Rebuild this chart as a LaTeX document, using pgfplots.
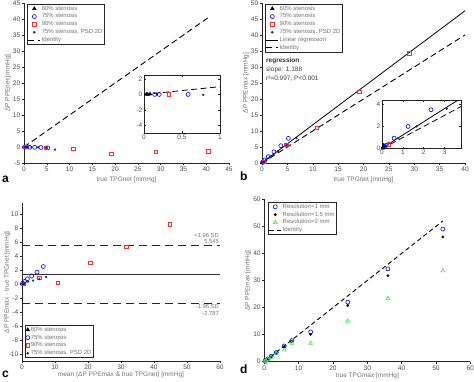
\documentclass[border=0pt]{standalone}
\usepackage{pgfplots}
\pgfplotsset{compat=1.18}
\usepackage{fontspec}
\setmainfont{Liberation Sans}
\definecolor{mblue}{rgb}{0.05,0.05,0.95}
\definecolor{mred}{rgb}{0.93,0.2,0.2}
\definecolor{mnavy}{rgb}{0.12,0.12,0.55}
\definecolor{mgreen}{rgb}{0.3,0.88,0.3}
\definecolor{labgray}{gray}{0.45}
\definecolor{tickgray}{gray}{0.3}
\pgfplotsset{
  base/.style={scale only axis, anchor=south west,
    axis lines*=left, tick align=outside,
    major tick length=2pt,
    axis line style={line width=0.5pt, black!85},
    tick style={line width=0.5pt, black!85},
    /pgf/number format/assume math mode=true,
    ticklabel style={font=\fontsize{6.6}{7.5}\selectfont, text=tickgray, inner sep=1.5pt},
    label style={font=\fontsize{6.5}{7.5}\selectfont, text=labgray},
    legend style={font=\fontsize{6}{7}\selectfont, text=labgray, draw=black!85, line width=0.6pt, inner sep=0.5pt, row sep=0pt, legend cell align=left, nodes={inner sep=1pt}},
    legend image code/.code={\draw[mark repeat=2,mark phase=2,##1] plot coordinates {(0pt,0pt) (6pt,0pt) (12pt,0pt)};},
  },
  inset/.style={scale only axis, anchor=south west, axis background/.style={fill=white},
    tick align=inside, major tick length=2pt,
    axis line style={line width=0.5pt, black!85},
    tick style={line width=0.5pt, black!85},
    ticklabel style={font=\fontsize{6.5}{7}\selectfont, text=tickgray, inner sep=1.5pt},
    /pgf/number format/assume math mode=true},
  s60/.style={only marks, mark=triangle*, mark size=2pt, black},
  s75/.style={only marks, mark=o, mark size=2pt, mblue, line width=0.65pt},
  s90/.style={only marks, mark=square, mark size=1.7pt, mred, line width=0.65pt},
  spsd/.style={only marks, mark=*, mark size=0.95pt, mnavy},
  sid/.style={black, line width=0.9pt, dash pattern=on 6pt off 3.5pt},
}
\begin{document}
\begin{tikzpicture}
\path[use as bounding box] (0pt,0pt) rectangle (474pt,381pt);
% ---------------- panel a
\begin{axis}[base, at={(24pt,218pt)}, width=205pt, height=160pt,
  xmin=0, xmax=45, ymin=-5, ymax=45,
  xtick={0,5,...,45}, ytick={-5,0,...,45},
  xlabel={true TPGnet [mmHg]}, ylabel={ΔP PPEnet [mmHg]},
  ylabel style={at={(axis description cs:-0.078,0.5)}, anchor=center},
  legend style={at={(0.015,0.994)}, anchor=north west}]
\addplot[s60] coordinates {(0.03,0.02) (0.05,0) (0.08,0.05)};
\addplot[s75] coordinates {(0.14,0) (0.2,0) (0.58,0) (1.25,-0.1) (2.35,-0.1) (3.7,-0.15) (5.2,-0.25)};
\addplot[s90] coordinates {(0.33,0) (4.8,-0.3) (10.8,-0.6) (19.2,-2.1) (29,-1.6) (40.5,-1.4)};
\addplot[spsd] coordinates {(0.17,0) (0.78,-0.05) (1.65,-0.05) (3.1,-0.1) (4.9,-0.2) (6.8,-0.8)};
\addplot[sid] coordinates {(0,0) (40.5,40.5)};
\legend{60\% stenosis, 75\% stenosis, 90\% stenosis, {75\% stenosis, PSD 2D}, Identity}
\end{axis}
\begin{axis}[inset, at={(144pt,247.7pt)}, width=76pt, height=58.3pt,
  xmin=0, xmax=1, ymin=-5, ymax=2.5, xtick={0,0.5,1}, ytick={-4,-2,0,2}]
\addplot[s60] coordinates {(0.03,0.02) (0.05,0) (0.08,0.05)};
\addplot[s75] coordinates {(0.14,0) (0.2,0) (0.58,0) (1.25,-0.1)};
\addplot[s90] coordinates {(0.33,0) (4.8,-0.3)};
\addplot[spsd] coordinates {(0.17,0) (0.78,-0.05) (1.65,-0.05)};
\addplot[sid, line width=0.8pt] coordinates {(0,0) (1,1)};
\end{axis}
% ---------------- panel b
\begin{axis}[base, at={(262pt,218pt)}, width=203pt, height=160pt,
  xmin=0, xmax=40, ymin=0, ymax=50,
  xtick={0,5,...,40}, ytick={0,5,...,50},
  xlabel={true TPGnet [mmHg]}, ylabel={ΔP PPEmax [mmHg]},
  ylabel style={at={(axis description cs:-0.079,0.5)}, anchor=center},
  legend style={at={(0.015,0.994)}, anchor=north west}]
\addplot[s60] coordinates {(0.03,0.05) (0.05,0.15) (0.08,0.3)};
\addplot[s75] coordinates {(0.14,0.2) (0.2,0.3) (0.58,0.95) (1.25,2.0) (2.35,3.5) (3.7,5.4) (5.2,7.7)};
\addplot[s90] coordinates {(0.33,0.4) (4.8,5.7) (10.8,11.0) (19.2,22.2) (29,34.3) (40.5,49.0)};
\addplot[spsd] coordinates {(0.17,0.25) (0.78,0.95) (1.65,2.0) (3.1,3.6) (4.9,5.6) (6.8,7.8)};
\addplot[black, line width=0.8pt] coordinates {(0,0.05) (40.5,48.16)};
\addplot[sid] coordinates {(0,0) (40.5,40.5)};
\legend{60\% stenosis, 75\% stenosis, 90\% stenosis, {75\% stenosis, PSD 2D}, Linear regression, Identity}
\end{axis}
\begin{axis}[inset, at={(382pt,232.3pt)}, width=79.3pt, height=48.4pt,
  xmin=0, xmax=3.8, ymin=0, ymax=4.35, xtick={0,1,2,3}, ytick={0,2,4}]
\addplot[s60] coordinates {(0.03,0.05) (0.05,0.15) (0.08,0.3)};
\addplot[s75] coordinates {(0.14,0.2) (0.2,0.3) (0.58,0.95) (1.25,2.0) (2.35,3.5) (3.7,5.4)};
\addplot[s90] coordinates {(0.33,0.4) (4.8,5.7)};
\addplot[spsd] coordinates {(0.17,0.25) (0.78,0.95) (1.65,2.0) (3.1,3.6) (4.9,5.6)};
\addplot[black, line width=0.8pt] coordinates {(0,0.05) (3.8,4.56)};
\addplot[sid, line width=0.8pt] coordinates {(0,0) (3.8,3.8)};
\end{axis}
\node[anchor=base west, font=\bfseries\fontsize{6.5}{7}\selectfont, text=black!80, inner sep=0pt] at (266pt,318pt) {regression};
\node[anchor=base west, font=\fontsize{6.5}{7}\selectfont, text=black!75, inner sep=0pt] at (266pt,309pt) {slope: 1.188};
\node[anchor=base west, font=\fontsize{6.5}{7}\selectfont, text=black!75, inner sep=0pt] at (266pt,300pt) {r²=0.997, P<0.001};
% ---------------- panel c
\begin{axis}[base, at={(22pt,19.8pt)}, width=198pt, height=157.8pt,
  xmin=0, xmax=60, ymin=-11, ymax=11.5,
  xtick={0,10,...,60}, ytick={-10,-8,...,10},
  xlabel={mean (ΔP PPEmax \& true TPGnet) [mmHg]}, ylabel={ΔP PPEmax - true TPGnet [mmHg]},
  xlabel style={yshift=2.5pt},
  ylabel style={at={(axis description cs:-0.075,0.5)}, anchor=center},
  legend style={at={(0.015,0.02)}, anchor=south west}]
\addplot[s60] coordinates {(0.04,0.03) (0.1,0.1) (0.19,0.22)};
\addplot[s75] coordinates {(0.17,0.06) (0.25,0.1) (0.77,0.37) (1.63,0.75) (2.93,1.15) (4.55,1.7) (6.45,2.5)};
\addplot[s90] coordinates {(0.37,0.07) (5.25,0.9) (10.9,0.2) (20.7,3.0) (31.65,5.3) (44.75,8.5)};
\addplot[spsd] coordinates {(0.21,0.08) (0.87,0.17) (1.83,0.35) (3.35,0.5) (5.25,0.7) (7.3,1.0)};
\legend{60\% stenosis, 75\% stenosis, 90\% stenosis, {75\% stenosis, PSD 2D}}
\addplot[black!80, line width=0.8pt, forget plot] coordinates {(0,1.379) (60,1.379)};
\addplot[black!85, line width=0.9pt, dash pattern=on 8pt off 5pt, forget plot] coordinates {(0,5.545) (60,5.545)};
\addplot[black!85, line width=0.9pt, dash pattern=on 8pt off 5pt, forget plot] coordinates {(0,-2.787) (60,-2.787)};
\node[anchor=south east, align=right, font=\fontsize{5.8}{6.2}\selectfont, text=labgray, inner sep=1pt] at (axis cs:60,5.545) {+1.96 SD\\5.545};
\node[anchor=north east, align=right, font=\fontsize{5.8}{6.2}\selectfont, text=labgray, inner sep=1pt] at (axis cs:60,-2.787) {-1.96 SD\\-2.787};
\end{axis}
% ---------------- panel d
\begin{axis}[base, at={(264.3pt,19.3pt)}, width=206pt, height=162.4pt,
  xmin=0, xmax=60, ymin=0, ymax=60,
  xtick={0,10,...,60}, ytick={0,10,...,60},
  xlabel={true TPGmax [mmHg]}, ylabel={ΔP PPEmax [mmHg]},
  xlabel style={yshift=2.5pt},
  ylabel style={at={(axis description cs:-0.079,0.5)}, anchor=center},
  legend style={at={(0.018,0.983)}, anchor=north west}]
\addplot[only marks, mark=o, mark size=2pt, mblue, line width=0.65pt] coordinates {(0.2,0.2) (0.5,0.5) (1,1) (2,2) (3.5,3.4) (5.8,5.8) (8,7.8) (13.5,11) (24.3,22) (36,34.3) (52,49)};
\addplot[only marks, mark=*, mark size=1.15pt, black] coordinates {(0.2,0.2) (0.5,0.5) (1,0.95) (2,1.9) (3.5,3.3) (5.8,5.5) (8,7.5) (13.5,10.1) (24.3,20.8) (36,31.8) (52,46.1)};
\addplot[only marks, mark=triangle, mark size=2.2pt, mgreen, line width=0.65pt] coordinates {(0.2,0.2) (0.5,0.4) (1,0.9) (2,1.7) (3.5,3) (5.8,4.3) (8,6.8) (13.5,6.8) (24.3,15) (36,23.3) (52,33.6)};
\addplot[black, line width=0.9pt, dash pattern=on 4.5pt off 3pt] coordinates {(0,0) (52,52)};
\legend{Resolution=1 mm, Resolution=1.5 mm, Resolution=2 mm, Identity}
\end{axis}
% panel letters
\node[anchor=base west, font=\bfseries\fontsize{12}{12}\selectfont, inner sep=0pt] at (2pt,199pt) {a};
\node[anchor=base west, font=\bfseries\fontsize{12}{12}\selectfont, inner sep=0pt] at (240pt,201pt) {b};
\node[anchor=base west, font=\bfseries\fontsize{12}{12}\selectfont, inner sep=0pt] at (2pt,4pt) {c};
\node[anchor=base west, font=\bfseries\fontsize{12}{12}\selectfont, inner sep=0pt] at (240pt,8pt) {d};
\end{tikzpicture}
\end{document}
